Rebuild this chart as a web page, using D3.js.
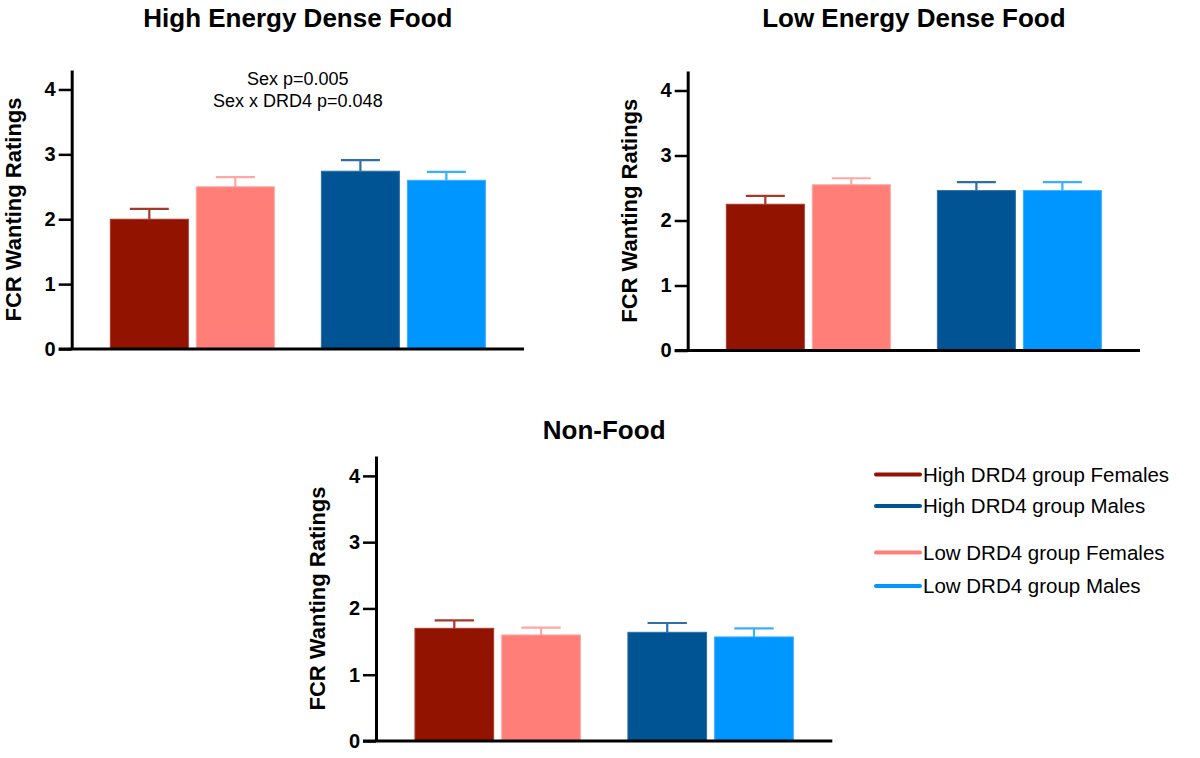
<!DOCTYPE html>
<html><head><meta charset="utf-8">
<script src="https://cdn.jsdelivr.net/npm/d3@7"></script>
<style>
body{margin:0;background:#fff}
svg{display:block}
text{font-family:"Liberation Sans",Arial,Helvetica,sans-serif;fill:#000}
</style>
</head><body>
<svg id="chart" width="1200" height="758"></svg>
<script>
// ---------------- data ----------------
const panelTitles = ["High Energy Dense Food", "Low Energy Dense Food", "Non-Food"];
const sexGroups = ["Females", "Males"];
const drd4Groups = ["High", "Low"];

// means per panel (HEDF, LEDF, Non-Food)
const meanHighFemales = [2.00, 2.25, 1.70];
const meanLowFemales  = [2.50, 2.55, 1.60];
const meanHighMales   = [2.74, 2.46, 1.64];
const meanLowMales    = [2.60, 2.46, 1.57];

// SEM per panel
const semHighFemales = [0.16, 0.13, 0.12];
const semLowFemales  = [0.15, 0.10, 0.11];
const semHighMales   = [0.17, 0.13, 0.14];
const semLowMales    = [0.13, 0.13, 0.13];

const yTicks = [0, 1, 2, 3, 4];
const yMax = 4.3;
const yLabel = "FCR Wanting Ratings";
const annotationLines = ["Sex p=0.005", "Sex x DRD4 p=0.048"];

const legendLabels = ["High DRD4 group Females", "High DRD4 group Males", "Low DRD4 group Females", "Low DRD4 group Males"];
const legendKeys = ["High Females", "High Males", "Low Females", "Low Males"];

// ---------------- styles / layout ----------------
const fillColor = {
  "High Females": "#921300",
  "Low Females":  "#ff7f78",
  "High Males":   "#005493",
  "Low Males":    "#0096ff"
};
const edgeColor = {
  "High Females": "#a8382a",
  "Low Females":  "#ffa7a2",
  "High Males":   "#2f6ea6",
  "Low Males":    "#3aaeff"
};

const layout = [
  {x0: 71.7, x1: 524,   yBase: 349,   yTop: 70,  titleY: 27},
  {x0: 687.7, x1: 1140, yBase: 350.5, yTop: 71,  titleY: 27},
  {x0: 376,  x1: 832.3, yBase: 741,   yTop: 456, titleY: 439}
];
const legendLayout = {xLine0: 876, xLine1: 920, xText: 923, ys: [474.5, 506, 552.5, 586]};

const svg = d3.select("#chart");

function rowsFor(i) {
  const m = {"High Females": meanHighFemales, "Low Females": meanLowFemales, "High Males": meanHighMales, "Low Males": meanLowMales};
  const s = {"High Females": semHighFemales, "Low Females": semLowFemales, "High Males": semHighMales, "Low Males": semLowMales};
  const rows = [];
  sexGroups.forEach(sex => drd4Groups.forEach(d => {
    const key = d + " " + sex;
    rows.push({sex, drd4: d, key, value: m[key][i], sem: s[key][i]});
  }));
  return rows;
}

panelTitles.forEach((title, i) => {
  const L = layout[i];
  const g = svg.append("g");
  const rows = rowsFor(i);

  const y = d3.scaleLinear().domain([0, yMax]).range([L.yBase, L.yTop]);
  const xOuter = d3.scaleBand().domain(sexGroups).range([L.x0, L.x1]).paddingInner(0.223).paddingOuter(0.183);
  const xInner = d3.scaleBand().domain(drd4Groups).range([0, xOuter.bandwidth()]).paddingInner(0.093).paddingOuter(0);

  // bars
  g.selectAll("rect.bar").data(rows).join("rect")
    .attr("class", "bar")
    .attr("x", d => xOuter(d.sex) + xInner(d.drd4))
    .attr("width", xInner.bandwidth())
    .attr("y", d => y(d.value))
    .attr("height", d => y(0) - y(d.value))
    .attr("fill", d => fillColor[d.key])
    .attr("stroke", d => edgeColor[d.key])
    .attr("stroke-width", 1);

  // error bars (upper only)
  const eb = g.selectAll("g.err").data(rows).join("g").attr("class", "err");
  eb.append("line")
    .attr("x1", d => xOuter(d.sex) + xInner(d.drd4) + xInner.bandwidth() / 2)
    .attr("x2", d => xOuter(d.sex) + xInner(d.drd4) + xInner.bandwidth() / 2)
    .attr("y1", d => y(d.value))
    .attr("y2", d => y(d.value + d.sem))
    .attr("stroke", d => edgeColor[d.key]).attr("stroke-width", 2.2);
  eb.append("line")
    .attr("x1", d => xOuter(d.sex) + xInner(d.drd4) + xInner.bandwidth() * 0.25)
    .attr("x2", d => xOuter(d.sex) + xInner(d.drd4) + xInner.bandwidth() * 0.75)
    .attr("y1", d => y(d.value + d.sem))
    .attr("y2", d => y(d.value + d.sem))
    .attr("stroke", d => edgeColor[d.key]).attr("stroke-width", 2.2);

  // y axis
  const ya = g.append("g").attr("transform", `translate(${L.x0},0)`)
    .call(d3.axisLeft(y).tickValues(yTicks).tickFormat(d3.format("d")).tickSize(13).tickPadding(3).tickSizeOuter(0));
  ya.select(".domain").attr("stroke", "#000").attr("stroke-width", 3);
  ya.selectAll(".tick line").attr("stroke", "#000").attr("stroke-width", 2.5);
  ya.selectAll(".tick text").attr("font-size", 20).attr("font-weight", "bold")
    .attr("font-family", '"Liberation Sans",Arial,sans-serif').attr("fill", "#000");

  // x baseline
  g.append("line")
    .attr("x1", L.x0 - 13).attr("x2", L.x1)
    .attr("y1", y(0)).attr("y2", y(0))
    .attr("stroke", "#000").attr("stroke-width", 3);

  // y label
  g.append("text")
    .attr("transform", `translate(${L.x0 - 51},${(L.yBase + L.yTop) / 2}) rotate(-90)`)
    .attr("text-anchor", "middle")
    .attr("font-size", 22).attr("font-weight", "bold")
    .text(yLabel);

  // title
  g.append("text")
    .attr("x", (L.x0 + L.x1) / 2).attr("y", L.titleY)
    .attr("text-anchor", "middle")
    .attr("font-size", 26).attr("font-weight", "bold")
    .text(title);

  if (i === 0) {
    g.selectAll("text.anno").data(annotationLines).join("text")
      .attr("class", "anno")
      .attr("x", (L.x0 + L.x1) / 2)
      .attr("y", (d, k) => 85 + k * 21.5)
      .attr("text-anchor", "middle")
      .attr("font-size", 18)
      .text(d => d);
  }
});

// legend
const lg = svg.append("g");
const items = lg.selectAll("g").data(legendLabels).join("g");
items.append("line")
  .attr("x1", legendLayout.xLine0).attr("x2", legendLayout.xLine1)
  .attr("y1", (d, k) => legendLayout.ys[k]).attr("y2", (d, k) => legendLayout.ys[k])
  .attr("stroke", (d, k) => fillColor[legendKeys[k]])
  .attr("stroke-width", 4).attr("stroke-linecap", "round");
items.append("text")
  .attr("x", legendLayout.xText)
  .attr("y", (d, k) => legendLayout.ys[k] + 7)
  .attr("font-size", 20.5)
  .text(d => d);
</script>
</body></html>
